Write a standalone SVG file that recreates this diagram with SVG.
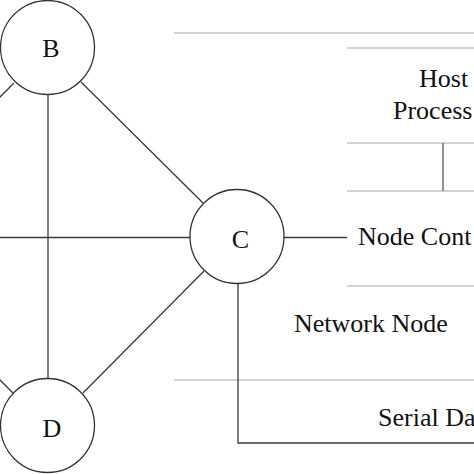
<svg xmlns="http://www.w3.org/2000/svg" width="474" height="474" viewBox="0 0 474 474">
<style>
.node circle{fill:#fff;stroke:#333;stroke-width:1.3}
.conn line,.conn polyline{stroke:#3a3a3a;stroke-width:1.3;fill:none}
.guide{stroke:#c4c4c4;stroke-width:1.5}
.lbl{font-family:"Liberation Serif","Times New Roman",serif;font-size:26px;fill:#111}
</style>
<rect width="474" height="474" fill="#fff"/>
<g id="guides">
<line class="guide" x1="174" y1="33" x2="474" y2="33"/>
<line class="guide" x1="347" y1="48" x2="474" y2="48"/>
<line class="guide" x1="347" y1="143" x2="474" y2="143"/>
<line class="guide" x1="347" y1="191" x2="474" y2="191"/>
<line class="guide" x1="347" y1="286" x2="474" y2="286"/>
<line class="guide" x1="174" y1="380" x2="474" y2="380"/>
<line x1="443" y1="143" x2="443" y2="191" stroke="#777" stroke-width="1.6"/>
</g>
<g id="connectors" class="conn">
<line x1="14" y1="83" x2="-10" y2="107"/>
<line x1="13" y1="393" x2="-10" y2="370"/>
<line x1="0" y1="237.5" x2="190" y2="237.5"/>
<line x1="48" y1="95" x2="48" y2="379"/>
<line x1="81" y1="82" x2="203" y2="203"/>
<line x1="204" y1="271" x2="83" y2="393"/>
<line x1="284" y1="237.5" x2="347" y2="237.5"/>
<polyline points="238,284 238,443 474,443"/>
</g>
<g id="node-B" class="node">
<circle cx="47.5" cy="47.5" r="47"/>
<text class="lbl" x="51" y="57" text-anchor="middle">B</text>
</g>
<g id="node-C" class="node">
<circle cx="237" cy="236.5" r="47"/>
<text class="lbl" x="240.5" y="248" text-anchor="middle">C</text>
</g>
<g id="node-D" class="node">
<circle cx="47.5" cy="425.5" r="47"/>
<text class="lbl" x="52" y="437" text-anchor="middle">D</text>
</g>
<g id="labels">
<text class="lbl" x="419" y="87">Host</text>
<text class="lbl" x="393" y="119">Process</text>
<text class="lbl" x="358" y="245">Node Cont</text>
<text class="lbl" x="294" y="332">Network Node</text>
<text class="lbl" x="378" y="426">Serial Da</text>
</g>
</svg>
